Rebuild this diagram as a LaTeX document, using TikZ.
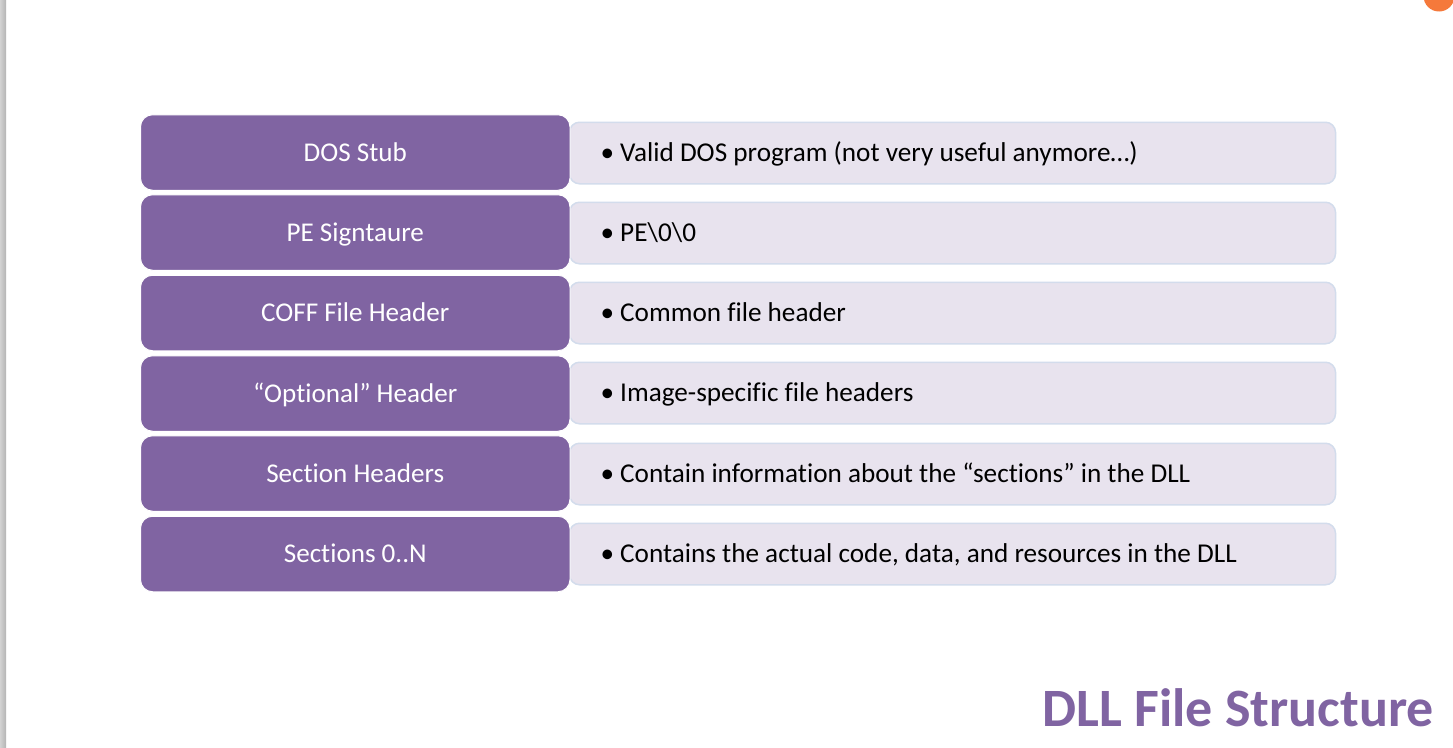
\documentclass[tikz,border=0pt]{standalone}
\usepackage{fontspec}
\setmainfont[Ligatures={NoCommon}]{Carlito}
\definecolor{plum}{HTML}{8064A2}
\definecolor{pale}{HTML}{E8E3EE}
\definecolor{paleedge}{HTML}{D3DCEC}
\definecolor{badge}{HTML}{F5793B}
\definecolor{shadeL}{HTML}{D2D2D2}
\definecolor{shadeR}{HTML}{B4B4B4}
\tikzset{
  headbox/.style={draw=white,line width=1pt,fill=plum,rounded corners=12pt,minimum width=429.5pt,minimum height=75.5pt,inner sep=0pt,text=white,font=\fontsize{27.1pt}{30pt}\selectfont,text height=23pt,text depth=6pt,anchor=center},
  bodybox/.style={draw=paleedge,line width=1.5pt,fill=pale,rounded corners=10pt,minimum width=766pt,minimum height=61.5pt,inner sep=0pt,anchor=center},
  bodytext/.style={text=black,font=\fontsize{27.2pt}{30pt}\selectfont,anchor=base west,inner sep=0pt},
  titletext/.style={text=plum,font=\fontsize{54pt}{60pt}\selectfont\bfseries,anchor=base east,inner sep=0pt}
}
\begin{document}
\begin{tikzpicture}[x=1pt,y=-1pt]
\useasboundingbox (0,0) rectangle (1453,747);
\fill[white] (0,0) rectangle (1453,747);
\shade[left color=shadeL,right color=shadeR,draw=none] (0,0) rectangle (6,747);
\begin{scope}
\clip (0,0) rectangle (1453,747);
\fill[badge] (1439,-4) circle (15.5);
\end{scope}
\foreach \nm/\cy/\hy/\txt/\bul in {
 a/153/152.5/{DOS Stub}/{Valid DOS program (not very useful anymore…)},
 b/233/232.5/{PE Signtaure}/{PE\textbackslash 0\textbackslash 0},
 c/313/313/{COFF File Header}/{Common file header},
 d/393/393.5/{“Optional” Header}/{Image-specific file headers},
 e/474/473.5/{Section Headers}/{Contain information about the “sections” in the DLL},
 f/554/554/{Sections 0..N}/{Contains the actual code, data, and resources in the DLL}}{
  \node[bodybox] (body\nm) at (952.5,\cy) {};
  \node[headbox] (head\nm) at (355.25,\hy) {\txt};
  \node[bodytext] (bul\nm) at (600.5,\cy+8) {•};
  \node[bodytext] (txt\nm) at (620,\cy+8) {\bul};
}
\node[titletext] (title) at (1434,726) {DLL File Structure};
\end{tikzpicture}
\end{document}
